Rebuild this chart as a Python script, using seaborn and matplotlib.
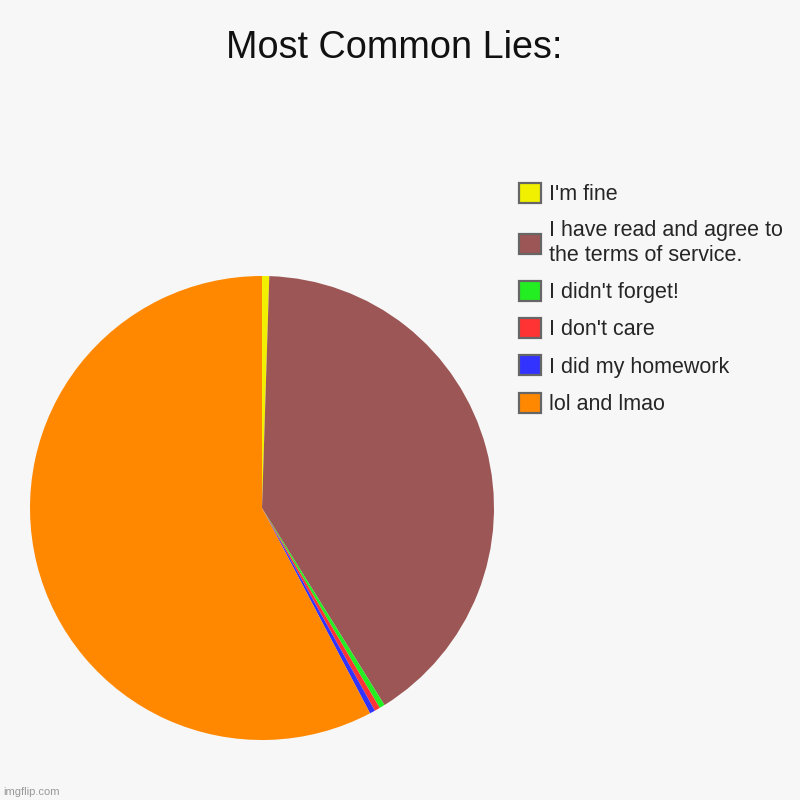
import matplotlib.pyplot as plt
import seaborn as sns
from matplotlib.patches import Patch

# values (percent of the pie)
labels = [
    "I'm fine",
    "I have read and agree to\nthe terms of service.",
    "I didn't forget!",
    "I don't care",
    "I did my homework",
    "lol and lmao",
]
shares = [0.5, 40.65, 0.38, 0.38, 0.38, 57.71]
colors = ["#f0f000", "#9b5655", "#22ee22", "#ff3333", "#3333ff", "#ff8800"]

sns.set_style("white", {"figure.facecolor": "#f7f7f7", "axes.facecolor": "#f7f7f7"})
plt.rcParams["font.family"] = ["Liberation Sans", "DejaVu Sans"]

fig = plt.figure(figsize=(8, 8), dpi=100)
fig.patch.set_facecolor("#f7f7f7")

ax = fig.add_axes([0.0375, 0.075, 0.58, 0.58])
ax.pie(shares, colors=colors, startangle=90, counterclock=False,
       wedgeprops={"linewidth": 0})
ax.set_xlim(-1, 1)
ax.set_ylim(-1, 1)
ax.set_aspect("equal")
ax.axis("off")

fig.text(0.4925, 1 - 48 / 800, "Most Common Lies:", ha="center", va="center",
         fontsize=27.2, color="#111111")

handles = [Patch(facecolor=c, edgecolor="#666666", linewidth=1.6) for c in colors]
fig.legend(handles, labels, loc="upper left", bbox_to_anchor=(0.649, 1 - 183 / 800),
           frameon=False, fontsize=15.5, handlelength=1.0, handleheight=1.05,
           handletextpad=0.38, labelspacing=0.7, borderpad=0, borderaxespad=0)

fig.text(0.004, 0.004, "imgflip.com", fontsize=8, color="#999999", ha="left", va="bottom")

fig.savefig("out.png", dpi=100, facecolor=fig.get_facecolor())
